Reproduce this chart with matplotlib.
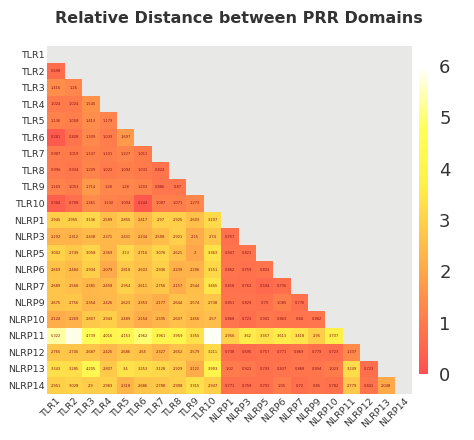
import matplotlib.pyplot as plt
import numpy as np
from matplotlib.colors import LinearSegmentedColormap

labels = ["TLR1", "TLR2", "TLR3", "TLR4", "TLR5", "TLR6", "TLR7", "TLR8", "TLR9", "TLR10",
          "NLRP1", "NLRP3", "NLRP5", "NLRP6", "NLRP7", "NLRP9", "NLRP10", "NLRP11",
          "NLRP12", "NLRP13", "NLRP14"]

# lower triangle, row by row (row i has i values)
rows = [
    [],
    [0.698],
    [1.416, 1.26],
    [1.024, 1.024, 1.545],
    [1.136, 1.058, 1.413, 1.179],
    [0.281, 0.828, 1.309, 1.033, 1.697],
    [0.987, 1.019, 1.147, 1.101, 1.227, 1.011],
    [0.996, 0.934, 1.209, 1.022, 1.094, 1.031, 0.824],
    [1.169, 1.053, 1.714, 1.28, 1.28, 1.203, 0.886, 0.87],
    [0.384, 0.708, 1.361, 1.132, 1.094, 0.244, 1.087, 1.071, 1.273],
    [2.945, 2.955, 3.136, 2.589, 2.855, 2.417, 2.97, 2.925, 2.603, 3.207],
    [2.292, 2.312, 2.438, 2.371, 2.431, 2.234, 2.508, 2.921, 2.15, 2.74, 0.757],
    [3.002, 2.749, 3.058, 2.369, 3.13, 2.716, 3.076, 2.621, 2, 3.363, 0.847, 0.821],
    [2.669, 2.484, 2.934, 2.079, 2.818, 2.603, 2.936, 2.239, 2.296, 3.151, 0.862, 0.759, 0.833],
    [2.689, 2.568, 2.381, 2.458, 2.954, 2.611, 2.756, 2.157, 2.544, 3.465, 0.818, 0.762, 0.594, 0.735],
    [2.675, 2.756, 2.354, 2.426, 2.623, 2.353, 2.177, 2.644, 2.574, 2.738, 0.851, 0.829, 0.79, 1.085, 0.776],
    [2.124, 2.269, 2.807, 2.943, 2.489, 2.154, 2.335, 2.607, 2.456, 2.57, 0.868, 0.723, 0.941, 0.863, 0.84, 0.882],
    [5.322, 5.831, 4.739, 4.016, 4.153, 4.962, 3.961, 3.959, 3.355, 5.914, 2.956, 3.62, 3.357, 3.613, 3.418, 2.95, 3.707],
    [2.765, 2.745, 2.687, 2.425, 2.686, 2.65, 2.327, 2.652, 2.579, 3.211, 0.738, 0.695, 0.757, 0.771, 0.869, 0.779, 0.723, 1.337],
    [3.343, 3.285, 4.205, 2.807, 3.4, 3.253, 3.128, 2.929, 2.121, 3.903, 1.02, 0.922, 0.793, 0.837, 0.868, 0.894, 1.023, 3.249, 0.723],
    [2.951, 3.028, 2.9, 2.983, 2.318, 2.686, 2.788, 2.908, 3.315, 2.947, 0.771, 0.758, 0.791, 1.05, 0.72, 0.85, 0.782, 2.779, 0.841, 2.048],
]

n = len(labels)
data = np.full((n, n), np.nan)
for i, r in enumerate(rows):
    data[i, :len(r)] = r
data = np.ma.masked_invalid(data)

cmap = LinearSegmentedColormap.from_list("prr", [
    (0.0, "#ff4f4f"), (0.33, "#ffa64a"), (0.62, "#fff04a"),
    (0.8, "#ffff5a"), (1.0, "#ffffff")])

fig = plt.figure(figsize=(4.74, 4.4), dpi=100)
ax = fig.add_axes([0.1, 0.105, 0.77, 0.79])
ax.set_facecolor("#e8e8e6")
mesh = ax.pcolormesh(data, cmap=cmap, vmin=0, vmax=6)
ax.set_xlim(0, n)
ax.set_ylim(n, 0)
for i, r in enumerate(rows):
    for j, v in enumerate(r):
        ax.text(j + 0.5, i + 0.5, f"{v:g}", ha="center", va="center",
                fontsize=2.6, color="#ffffff" if v > 5.5 else "#8a1010")

ax.set_xticks(np.arange(n) + 0.5)
ax.set_xticklabels(labels, rotation=45, ha="right", rotation_mode="anchor", fontsize=6.8, color="#333333")
ax.set_yticks(np.arange(n) + 0.5)
ax.set_yticklabels(labels, fontsize=6.8, color="#333333")
ax.tick_params(length=0, pad=2)
for s in ax.spines.values():
    s.set_visible(False)

cax = fig.add_axes([0.885, 0.15, 0.018, 0.7])
cb = fig.colorbar(mesh, cax=cax)
cb.outline.set_visible(False)
cb.ax.tick_params(length=0, labelsize=13, pad=8, colors="#333333")

fig.suptitle("Relative Distance between PRR Domains", fontsize=11.5, fontweight="bold",
             color="#333333", x=0.505, y=0.975)
fig.savefig("out.png", dpi=100)
